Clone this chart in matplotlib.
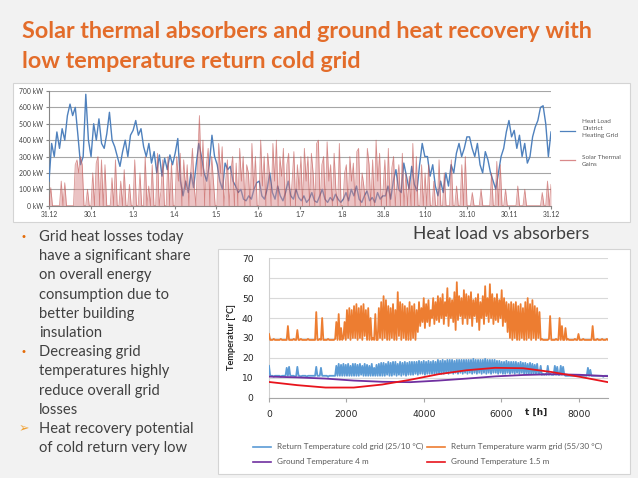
import numpy as np
import matplotlib
matplotlib.use('Agg')
import matplotlib.pyplot as plt
from matplotlib.patches import Rectangle
from matplotlib.lines import Line2D

W, H = 638, 478

# ---- top chart data (one row per month) ----
date_labels = ['31.12', '30.1', '1.3', '1.4', '1.5', '1.6', '1.7',
               '1.8', '31.8', '1.10', '31.10', '30.11', '31.12']

heat_load_kw = [
    150, 380, 300, 450, 350, 470, 400, 550, 620, 550, 600, 430, 250, 300, 680, 400,
    300, 500, 400, 530, 380, 350, 440, 570, 400, 360, 300, 240, 330, 400, 300, 430,
    460, 520, 430, 470, 360, 300, 380, 260, 330, 200, 310, 180, 290, 220, 310, 250,
    320, 410, 150, 60, 150, 80, 200, 110, 250, 380, 300, 200, 150, 250, 430, 300,
    250, 150, 100, 260, 220, 240, 150, 120, 80, 100, 40, 30, 60, 40, 100, 140,
    150, 60, 40, 100, 200, 80, 40, 120, 60, 30, 80, 150, 60, 40, 100, 50,
    30, 60, 20, 40, 80, 30, 20, 60, 100, 40, 20, 50, 30, 70, 40, 20,
    40, 80, 30, 100, 60, 120, 40, 20, 60, 90, 30, 50, 20, 80, 40, 60,
    60, 120, 40, 150, 220, 100, 80, 260, 180, 100, 240, 130, 90, 250, 380, 300,
    300, 180, 250, 120, 60, 150, 80, 200, 120, 250, 200, 320, 380, 300, 350, 420,
    420, 350, 300, 380, 250, 200, 330, 280, 200, 150, 100, 200, 300, 350, 450, 520,
    420, 460, 350, 430, 300, 380, 260, 300, 420, 480, 520, 600, 610, 500, 300, 450,
]

solar_gains_kw = [
    0, 110, 0, 0, 0, 0, 0, 150, 0, 140, 0, 0, 0, 0, 0, 250, 280, 200, 300, 250, 0, 0, 100, 0,
    0, 200, 0, 260, 300, 0, 280, 0, 250, 0, 0, 0, 170, 0, 280, 0, 0, 150, 0, 220, 0, 0, 130, 0,
    0, 280, 0, 0, 200, 0, 0, 300, 0, 120, 0, 250, 0, 0, 320, 0, 90, 280, 0, 0, 300, 0, 260, 0,
    0, 300, 150, 320, 0, 280, 100, 250, 0, 200, 350, 120, 0, 300, 550, 180, 400, 0, 250, 350, 0, 300, 150, 0,
    0, 380, 200, 360, 0, 150, 280, 0, 220, 300, 0, 260, 0, 350, 150, 300, 0, 250, 200, 0, 380, 100, 300, 0,
    0, 400, 120, 300, 0, 320, 200, 0, 380, 150, 400, 0, 300, 180, 350, 0, 250, 320, 0, 150, 330, 0, 250, 100,
    300, 0, 350, 150, 300, 0, 320, 200, 0, 380, 400, 0, 250, 300, 0, 390, 150, 250, 0, 320, 100, 0, 380, 0,
    0, 200, 250, 0, 300, 150, 260, 0, 330, 350, 0, 200, 120, 0, 350, 250, 0, 280, 0, 400, 150, 320, 0, 100,
    280, 0, 350, 0, 230, 300, 0, 150, 250, 0, 320, 0, 200, 0, 180, 0, 380, 0, 300, 0, 0, 250, 0, 200,
    0, 250, 0, 0, 150, 0, 0, 280, 0, 0, 200, 0, 0, 0, 280, 0, 0, 120, 0, 0, 250, 0, 300, 0,
    0, 0, 80, 0, 0, 0, 0, 100, 0, 0, 0, 0, 0, 200, 0, 0, 270, 0, 250, 0, 0, 100, 0, 0,
    0, 0, 0, 0, 120, 0, 0, 0, 100, 0, 0, 0, 0, 0, 0, 0, 0, 0, 80, 0, 0, 150, 0, 130,
]

# ---- bottom chart data (temperatures over the year, 24 readings per month) ----
warm_return_c = [
    32, 29, 29, 29, 29.5, 29, 29, 29, 29, 29, 29.5, 29, 29, 29, 29, 29, 36, 29, 29, 29, 29, 29.5, 29, 29,
    34, 29, 29, 29.5, 29, 29, 29, 29, 29, 29.5, 29, 29, 29, 29, 29, 29, 43, 29, 29, 29.5, 29, 40, 29, 29,
    29, 29, 29.5, 29, 29, 29, 29, 29, 29.5, 38, 29, 42, 29, 35, 29, 30, 38, 29, 44, 30, 45, 29, 44, 30,
    46, 30, 47, 29, 45, 30, 46, 29, 47, 31, 44, 29, 45, 29, 40, 29, 30, 29, 42, 29, 29, 45, 30, 48,
    29, 51, 30, 49, 29, 46, 29, 45, 30, 47, 29, 44, 29, 53, 31, 48, 29, 47, 30, 46, 29, 45, 29, 48,
    29, 46, 30, 47, 29, 44, 33, 48, 36, 45, 38, 50, 35, 47, 38, 49, 36, 44, 40, 50, 37, 48, 39, 51,
    38, 50, 40, 52, 37, 48, 41, 55, 36, 50, 40, 49, 38, 53, 34, 58, 39, 51, 41, 50, 37, 54, 40, 52,
    37, 51, 40, 53, 36, 49, 41, 50, 38, 52, 34, 48, 40, 51, 37, 56, 41, 50, 38, 57, 40, 52, 37, 50,
    39, 52, 38, 49, 40, 54, 36, 50, 38, 48, 33, 47, 30, 48, 29, 47, 30, 48, 29, 46, 29, 47, 30, 45,
    29, 48, 29, 50, 30, 47, 29, 49, 30, 46, 29, 45, 30, 43, 29, 29.5, 29, 29, 29, 29, 29, 29.5, 41, 29,
    29, 29, 29, 29.5, 29, 29, 40, 29, 36, 29, 29, 35, 29, 29.5, 29, 29, 29, 29, 29, 29.5, 29, 29, 32, 29,
    29, 29, 29.5, 29, 29, 29, 29, 29, 29, 29, 36, 29, 29, 29, 29.5, 29, 29, 29, 29.5, 29, 29, 29, 29.5, 29,
]

cold_return_c = [
    16, 11, 11, 11, 10.5, 11, 11, 11, 11, 11, 10.5, 11, 11, 11, 11, 15, 11, 15.5, 11, 11, 11, 11, 10.5, 11,
    15.5, 11, 11, 10.5, 11, 11, 11, 11, 10.5, 11, 11, 11, 11, 11, 11, 11, 15.5, 11, 11, 11, 15, 11, 11, 11,
    11, 11, 10.5, 11, 11, 11, 11, 11, 11, 16, 11, 17, 11, 16.5, 11, 17, 11, 16.5, 11, 17, 11, 16, 11, 17,
    11, 17, 11, 16.5, 11, 17, 11.5, 16, 11, 17, 11, 16.5, 11, 16, 11, 17, 11, 15, 11, 16.5, 11, 17, 11, 17.5,
    11, 17.5, 11, 17, 11.5, 18, 11, 17.5, 11, 18, 11.5, 18, 11, 17, 11.5, 18, 11, 17.5, 11.5, 18, 11, 17.5, 11.5, 18,
    11.5, 18, 11.5, 18, 12, 18, 11.5, 18.5, 12, 18, 12, 18.5, 11.5, 18, 12, 18.5, 12, 18, 12, 18.5, 12, 18, 12, 19,
    12, 18.5, 12, 19, 12, 18.5, 12.5, 19, 12, 19, 12.5, 19, 12, 18.5, 12.5, 19, 12, 19, 12.5, 19, 12, 19, 12.5, 19,
    12, 19, 12.5, 19, 12, 19.5, 12.5, 19, 12, 19, 12.5, 19, 12, 19, 12.5, 19.5, 12, 19, 12.5, 19, 12, 19, 12.5, 19,
    12.5, 18.5, 12, 18.5, 12.5, 18, 12, 18, 12, 18.5, 12.5, 18, 12, 18, 12.5, 18, 12, 18, 12.5, 17.5, 12, 18, 12.5, 17.5,
    12, 17.5, 12, 17, 12, 17.5, 12, 17, 12, 16.5, 12, 17, 12, 12, 16, 11.5, 12, 11.5, 12, 11.5, 16, 11.5, 12, 11.5,
    11.5, 11.5, 16, 11.5, 15.5, 11.5, 11.5, 16, 11.5, 15.5, 11.5, 11, 11, 11, 11, 11, 11, 11, 11, 11, 11, 11, 11, 11,
    11, 11, 11, 11, 11, 11, 15, 11, 14, 11, 11, 11, 11, 11, 11, 11, 11, 11, 11, 10.5, 11, 11, 11, 11,
]

ground_hours = [0, 730, 1460, 2190, 2920, 3650, 4380, 5110, 5840, 6570, 7300, 8030, 8760]
ground_4m_c = [10.6, 10.2, 9.6, 8.6, 8.0, 7.8, 8.6, 9.6, 10.7, 11.4, 11.8, 11.5, 10.8]
ground_15m_c = [7.9, 6.3, 5.1, 5.1, 6.6, 9.0, 11.8, 13.8, 15.0, 14.8, 12.9, 10.5, 7.8]

bullets = [
    ('•', ['Grid heat losses today', 'have a significant share', 'on overall energy',
           'consumption due to', 'better building', 'insulation']),
    ('•', ['Decreasing grid', 'temperatures highly', 'reduce overall grid', 'losses']),
    ('➢', ['Heat recovery potential', 'of cold return very low']),
]


def fx(px):
    return px / W


def fy(py):
    return 1 - py / H


fig = plt.figure(figsize=(W / 100, H / 100), dpi=100)
fig.patch.set_facecolor('#F2F2F2')

# title
title_color = '#E36C2A'
fig.text(fx(22), fy(31), 'Solar thermal absorbers and ground heat recovery with',
         family='Lato', weight='bold', size=16.8, color=title_color, va='center')
fig.text(fx(22), fy(61), 'low temperature return cold grid',
         family='Lato', weight='bold', size=16.8, color=title_color, va='center')

# white chart boxes (behind the axes)
fig.add_artist(Rectangle((fx(13), fy(222)), fx(630) - fx(13), (222 - 83) / H,
                         transform=fig.transFigure, fc='white', ec='#D4D4D4', lw=0.8,
                         zorder=-1))
fig.add_artist(Rectangle((fx(218), fy(474)), fx(630) - fx(218), (474 - 249) / H,
                         transform=fig.transFigure, fc='white', ec='#D4D4D4', lw=0.8,
                         zorder=-1))

# ---------------- top chart ----------------
ax1 = fig.add_axes([fx(49), fy(205.7), (551 - 49) / W, (205.7 - 91) / H])
ax1.set_facecolor('white')
x_load = np.linspace(0, 12, len(heat_load_kw))
x_solar = np.linspace(0, 12, len(solar_gains_kw))
ax1.plot(x_load, heat_load_kw, color='#4F81BD', lw=1.0, zorder=3)
ax1.fill_between(x_solar, 0, solar_gains_kw, color='#D9898A', alpha=0.5, lw=0, zorder=4)
ax1.plot(x_solar, solar_gains_kw, color='#C0504D', lw=0.6, alpha=0.6, zorder=4)
ax1.set_xlim(0, 12)
ax1.set_ylim(0, 700)
ax1.set_xticks(range(13))
ax1.set_xticklabels(date_labels)
ax1.set_yticks(range(0, 701, 100))
ax1.set_yticklabels([f'{v} kW' for v in range(0, 701, 100)])
ax1.grid(axis='y', color='#A6A6A6', lw=0.8)
ax1.set_axisbelow(True)
for s in ['top', 'right']:
    ax1.spines[s].set_visible(False)
for s in ['left', 'bottom']:
    ax1.spines[s].set_color('#868686')
ax1.tick_params(axis='both', length=2, color='#868686', labelsize=4.9,
                labelcolor='#404040', pad=2)
for lab in ax1.get_xticklabels() + ax1.get_yticklabels():
    lab.set_family('Lato')

# top legend
fig.add_artist(Line2D([fx(560), fx(575)], [fy(131), fy(131)], color='#4F81BD', lw=0.9))
fig.add_artist(Line2D([fx(560), fx(575)], [fy(160), fy(160)], color='#D9898A', lw=0.9))
fig.text(fx(582), fy(119), 'Heat Load\nDistrict\nHeating Grid', family='Lato', size=4.6,
         color='#595959', va='top', linespacing=1.5)
fig.text(fx(582), fy(155), 'Solar Thermal\nGains', family='Lato', size=4.6,
         color='#595959', va='top', linespacing=1.5)

# ---------------- bullets ----------------
line_y = 237
for mark, lines in bullets:
    if mark == '•':
        fig.text(fx(21), fy(line_y), mark, family='DejaVu Sans', size=7.5,
                 color='#E46C0A', va='center')
    else:
        fig.text(fx(19), fy(line_y), mark, family='DejaVu Sans', size=9,
                 color='#F0A030', va='center')
    for ln in lines:
        fig.text(fx(39), fy(line_y), ln, family='Lato', size=10.6, color='#404040',
                 va='center')
        line_y += 19.2

fig.text(fx(413), fy(234), 'Heat load vs absorbers', family='Lato', size=12.6,
         color='#404040', va='center')

# ---------------- bottom chart ----------------
ax2 = fig.add_axes([fx(269), fy(397.7), (608 - 269) / W, (397.7 - 258.3) / H])
ax2.set_facecolor('white')
x_temp = np.linspace(0, 8760, len(warm_return_c))
ax2.plot(x_temp, cold_return_c, color='#5B9BD5', lw=1.3, zorder=3)
ax2.plot(x_temp, warm_return_c, color='#ED7D31', lw=1.3, zorder=3)
ax2.plot(ground_hours, ground_4m_c, color='#7030A0', lw=1.3, zorder=4)
ax2.plot(ground_hours, ground_15m_c, color='#E8141C', lw=1.3, zorder=5)
ax2.set_xlim(0, 8760)
ax2.set_ylim(0, 70)
ax2.set_xticks(range(0, 8001, 2000))
ax2.set_yticks(range(0, 71, 10))
ax2.grid(axis='y', color='#D9D9D9', lw=0.8)
ax2.set_axisbelow(True)
for s in ['top', 'right']:
    ax2.spines[s].set_visible(False)
ax2.spines['left'].set_color('#D0D0D0')
ax2.spines['bottom'].set_color('#A6A6A6')
ax2.tick_params(axis='x', length=3, color='#A6A6A6', labelsize=6.6, pad=6,
                labelcolor='#262626')
ax2.tick_params(axis='y', length=0, labelsize=6.6, pad=11, labelcolor='#262626')
fig.text(fx(536), fy(412), 't [h]', family='DejaVu Sans', weight='bold', size=6.6,
         color='#262626', ha='center', va='center')
fig.text(fx(231), fy(337), 'Temperatur [°C]', family='Lato', weight='bold', size=6.6,
         color='#262626', rotation=90, ha='center', va='center')

# bottom legend
legend_items = [
    (253, 446.5, '#5B9BD5', 'Return Temperature cold grid (25/10 °C)'),
    (427, 446.5, '#ED7D31', 'Return Temperature warm grid (55/30 °C)'),
    (253, 461.5, '#7030A0', 'Ground Temperature 4 m'),
    (427, 461.5, '#E8141C', 'Ground Temperature 1.5 m'),
]
for lx, ly, c, label in legend_items:
    fig.add_artist(Line2D([fx(lx), fx(lx + 18)], [fy(ly), fy(ly)], color=c, lw=1.2))
    fig.text(fx(lx + 24), fy(ly), label, family='Lato', size=5.9, color='#595959',
             va='center')

fig.savefig('out.png', dpi=100, facecolor=fig.get_facecolor())
